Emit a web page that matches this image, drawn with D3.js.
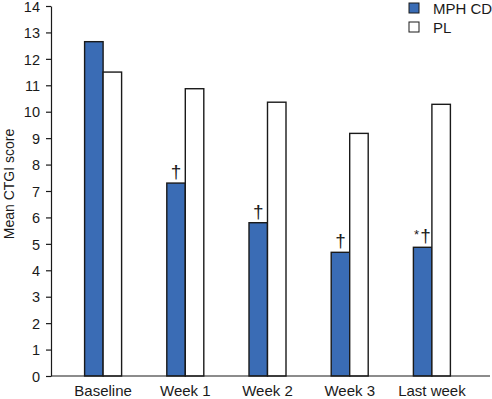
<!DOCTYPE html>
<meta charset="utf-8">
<style type="text/css">

body {
    margin: 0;
    background: #fff;
}

text {
    font-family: "Liberation Sans", Arial, sans-serif;
    fill: #1a1a1a;
}

.axis path,
.axis line {
    stroke: #1a1a1a;
    stroke-width: 1.2;
}

.bar {
    stroke: #1a1a1a;
    stroke-width: 1.4;
}

</style>
<body>
</body>

<script src="https://d3js.org/d3.v7.min.js"></script>
<script>

var categories = ["Baseline", "Week 1", "Week 2", "Week 3", "Last week"];
var seriesNames = ["MPH CD", "PL"];
var mphValues = [12.65, 7.3, 5.8, 4.68, 4.87];
var plValues = [11.5, 10.87, 10.36, 9.18, 10.28];
var stars = ["", "", "", "", "*"];
var daggers = ["", "\u2020", "\u2020", "\u2020", "\u2020"];
var yTicks = d3.range(0, 15);

var colors = { "MPH CD": "#3a6cb5", "PL": "#ffffff" };

var width = 492
  , height = 399;

var svg = d3.select("body").append("svg")
    .attr("width", width)
    .attr("height", height);

var yScale = d3.scaleLinear()
    .domain([0, 14])
    .range([376, 6]);

var xScale = d3.scaleBand()
    .domain(categories)
    .range([62, 473]);

var barWidth = 18.5;

var data = categories.map(function(c, i) {
    return { cat: c, mph: mphValues[i], pl: plValues[i], star: stars[i], dagger: daggers[i] };
});

// y axis
svg.append("g")
    .attr("class", "y axis")
    .attr("transform", "translate(51,0)")
    .call(d3.axisLeft(yScale).tickValues(yTicks).tickSize(5).tickPadding(6).tickSizeOuter(0))
    .call(function(g) { g.selectAll("text").style("font-size", "14.5px").attr("dy", "0.36em").attr("font-family", null); });

svg.append("text")
    .attr("transform", "translate(14,184) rotate(-90)")
    .attr("text-anchor", "middle")
    .style("font-size", "14px")
    .text("Mean CTGI score");

// bars
var groups = svg.selectAll(".grp")
    .data(data)
  .enter().append("g")
    .attr("class", "grp")
    .attr("transform", function(d) { return "translate(" + (xScale(d.cat) + xScale.bandwidth() / 2) + ",0)"; });

groups.append("rect")
    .attr("class", "bar")
    .attr("x", -barWidth)
    .attr("width", barWidth)
    .attr("y", function(d) { return yScale(d.mph); })
    .attr("height", function(d) { return yScale(0) - yScale(d.mph); })
    .attr("fill", colors["MPH CD"]);

groups.append("rect")
    .attr("class", "bar")
    .attr("x", 0)
    .attr("width", barWidth)
    .attr("y", function(d) { return yScale(d.pl); })
    .attr("height", function(d) { return yScale(0) - yScale(d.pl); })
    .attr("fill", colors["PL"]);

// significance marks
groups.append("text")
    .attr("x", function(d) { return d.star ? -barWidth / 2 + 3 : -barWidth / 2; })
    .attr("y", function(d) { return yScale(d.mph) - 5; })
    .attr("text-anchor", "middle")
    .style("font-size", "19px")
    .text(function(d) { return d.dagger; });

groups.append("text")
    .attr("x", -barWidth / 2 - 6)
    .attr("y", function(d) { return yScale(d.mph) - 8; })
    .attr("text-anchor", "middle")
    .style("font-size", "13px")
    .text(function(d) { return d.star; });

groups.append("text")
    .attr("y", 396)
    .attr("text-anchor", "middle")
    .style("font-size", "15px")
    .text(function(d) { return d.cat; });

// x axis line
svg.append("g")
    .attr("class", "x axis")
  .append("line")
    .attr("x1", 51)
    .attr("x2", 490)
    .attr("y1", yScale(0))
    .attr("y2", yScale(0));

// legend
var legend = svg.selectAll(".legend")
    .data(seriesNames)
  .enter().append("g")
    .attr("class", "legend")
    .attr("transform", function(d, i) { return "translate(409," + (3 + i * 19) + ")"; });

legend.append("rect")
    .attr("width", 10)
    .attr("height", 10)
    .attr("fill", function(d) { return colors[d]; })
    .attr("stroke", "#1a1a1a")
    .attr("stroke-width", 1);

legend.append("text")
    .attr("x", 24)
    .attr("y", 10.5)
    .style("font-size", "15px")
    .text(function(d) { return d; });

</script>
